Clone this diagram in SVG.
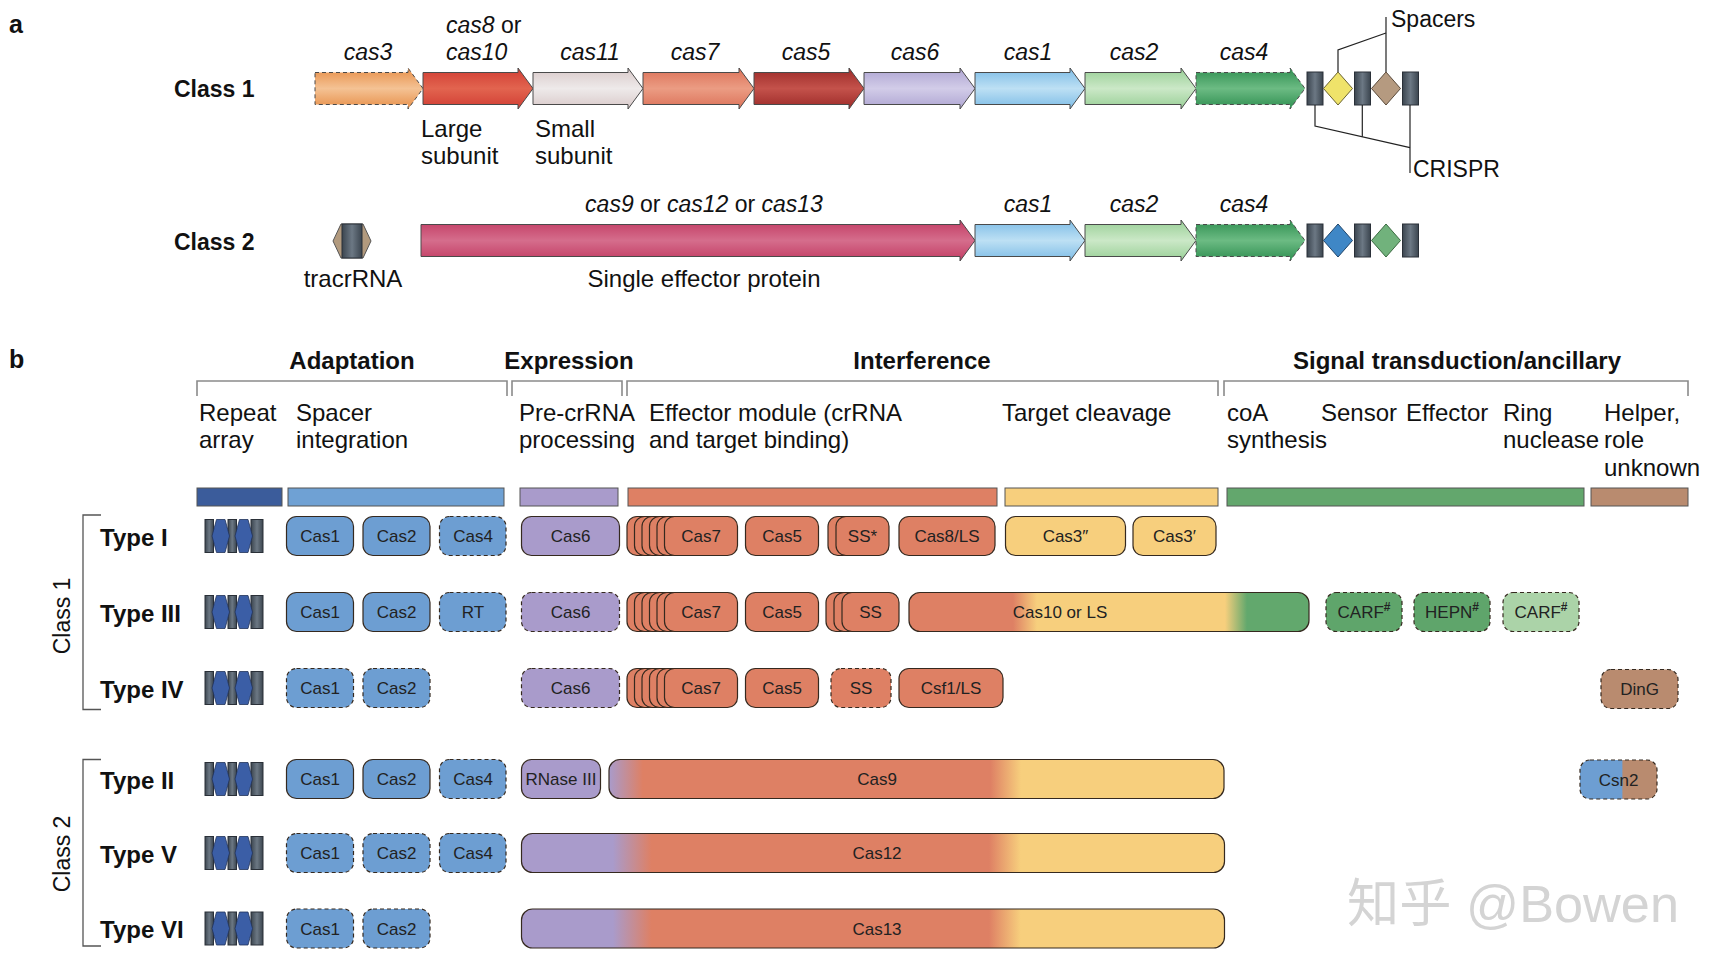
<svg xmlns="http://www.w3.org/2000/svg" width="1724" height="972" viewBox="0 0 1724 972">
<style>
text{font-family:"Liberation Sans",Arial,sans-serif;fill:#111}
.pl{font-size:25px;font-weight:bold}
.cl{font-size:23px;font-weight:bold}
.it{font-size:23px;font-style:italic}
.up{font-style:normal}
.lb{font-size:24px}
.hd{font-size:24px;font-weight:bold;text-anchor:middle}
.sh{font-size:24px}
.ty{font-size:24px;font-weight:bold}
.cv{font-size:23px;text-anchor:middle}
.bt{font-size:17px;text-anchor:middle;fill:#222}
.sup{font-size:12px;font-weight:bold}
.ar{stroke:#4a4a4a;stroke-width:1}
.ad{stroke-dasharray:4 3}
.bx{stroke:#35291f;stroke-width:1.2}
.d{stroke-dasharray:4 3}
.blue{fill:#6d9ed2}.pur{fill:#a99bcb}.sal{fill:#de8064}.yel{fill:#f7cf7d}.grn{fill:#5fa56b}.lgrn{fill:#abd3a8}.brn{fill:#b98b6f}
.cat{stroke:#555;stroke-width:1}
.brk{fill:none;stroke:#8a8a8a;stroke-width:1.6}
.cbr{fill:none;stroke:#555;stroke-width:1.3}
.ln{fill:none;stroke:#222;stroke-width:1.2}
.rep{stroke:#2a3038;stroke-width:1;fill:url(#gSlate)}
.hex{fill:#3b5ea6;stroke:#22345a;stroke-width:0.8}
</style>
<defs>
<linearGradient id="gOr" x1="0" y1="0" x2="0" y2="1"><stop offset="0" stop-color="#e78f49"/><stop offset="0.5" stop-color="#f4c294"/><stop offset="1" stop-color="#e78f49"/></linearGradient>
<linearGradient id="gRd" x1="0" y1="0" x2="0" y2="1"><stop offset="0" stop-color="#d13d33"/><stop offset="0.5" stop-color="#e2644f"/><stop offset="1" stop-color="#d13d33"/></linearGradient>
<linearGradient id="gGy" x1="0" y1="0" x2="0" y2="1"><stop offset="0" stop-color="#d9c9c9"/><stop offset="0.5" stop-color="#eeeaea"/><stop offset="1" stop-color="#d9c9c9"/></linearGradient>
<linearGradient id="gSa" x1="0" y1="0" x2="0" y2="1"><stop offset="0" stop-color="#dc7259"/><stop offset="0.5" stop-color="#eb9c83"/><stop offset="1" stop-color="#dc7259"/></linearGradient>
<linearGradient id="gDr" x1="0" y1="0" x2="0" y2="1"><stop offset="0" stop-color="#9c2a28"/><stop offset="0.5" stop-color="#c4524b"/><stop offset="1" stop-color="#9c2a28"/></linearGradient>
<linearGradient id="gLv" x1="0" y1="0" x2="0" y2="1"><stop offset="0" stop-color="#aea5d2"/><stop offset="0.5" stop-color="#d2cce8"/><stop offset="1" stop-color="#aea5d2"/></linearGradient>
<linearGradient id="gLb" x1="0" y1="0" x2="0" y2="1"><stop offset="0" stop-color="#7dbce6"/><stop offset="0.5" stop-color="#bde0f4"/><stop offset="1" stop-color="#7dbce6"/></linearGradient>
<linearGradient id="gLg" x1="0" y1="0" x2="0" y2="1"><stop offset="0" stop-color="#98cf96"/><stop offset="0.5" stop-color="#cbe8c7"/><stop offset="1" stop-color="#98cf96"/></linearGradient>
<linearGradient id="gDg" x1="0" y1="0" x2="0" y2="1"><stop offset="0" stop-color="#2f8f51"/><stop offset="0.5" stop-color="#6cbb83"/><stop offset="1" stop-color="#2f8f51"/></linearGradient>
<linearGradient id="gPk" x1="0" y1="0" x2="0" y2="1"><stop offset="0" stop-color="#c23c63"/><stop offset="0.5" stop-color="#d56d8c"/><stop offset="1" stop-color="#c23c63"/></linearGradient>
<linearGradient id="gSlate" x1="0" y1="0" x2="1" y2="0"><stop offset="0" stop-color="#3b454f"/><stop offset="0.5" stop-color="#6c7884"/><stop offset="1" stop-color="#3b454f"/></linearGradient>
<linearGradient id="gC10" x1="0" y1="0" x2="1" y2="0"><stop offset="0" stop-color="#de8064"/><stop offset="0.26" stop-color="#de8064"/><stop offset="0.32" stop-color="#f7cf7d"/><stop offset="0.79" stop-color="#f7cf7d"/><stop offset="0.845" stop-color="#62a86d"/><stop offset="1" stop-color="#62a86d"/></linearGradient>
<linearGradient id="gC9" x1="0" y1="0" x2="1" y2="0"><stop offset="0" stop-color="#a99bcb"/><stop offset="0.055" stop-color="#de8064"/><stop offset="0.62" stop-color="#de8064"/><stop offset="0.67" stop-color="#f7cf7d"/><stop offset="1" stop-color="#f7cf7d"/></linearGradient>
<linearGradient id="gC12" x1="0" y1="0" x2="1" y2="0"><stop offset="0" stop-color="#a99bcb"/><stop offset="0.13" stop-color="#a99bcb"/><stop offset="0.185" stop-color="#de8064"/><stop offset="0.665" stop-color="#de8064"/><stop offset="0.71" stop-color="#f7cf7d"/><stop offset="1" stop-color="#f7cf7d"/></linearGradient>
<linearGradient id="gCsn" x1="0" y1="0" x2="1" y2="0"><stop offset="0" stop-color="#6d9ed2"/><stop offset="0.54" stop-color="#6d9ed2"/><stop offset="0.56" stop-color="#b98b6f"/><stop offset="1" stop-color="#b98b6f"/></linearGradient>
<g id="rarr">
<rect x="0" y="0" width="8.5" height="33" class="rep"/>
<rect x="23" y="0" width="8.5" height="33" class="rep"/>
<rect x="46" y="0" width="12" height="33" class="rep"/>
<polygon class="hex" points="11.5,0 20,0 24.5,16.5 20,33 11.5,33 7,16.5"/>
<polygon class="hex" points="34.5,0 43,0 47.5,16.5 43,33 34.5,33 30,16.5"/>
</g>
</defs>
<rect width="1724" height="972" fill="#fff"/>

<!-- Panel a -->
<g id="panel-a">
<text class="pl" x="9" y="33">a</text>
<text class="cl" x="174" y="97">Class 1</text>
<text class="cl" x="174" y="250">Class 2</text>
</g>

<g id="a-row1">
<path class="ar ad" fill="url(#gOr)" d="M315,72.5 H408 V68 L423,88.5 L408,109 V104.5 H315 Z"/>
<path class="ar" fill="url(#gRd)" d="M423,72.5 H518 V68 L533,88.5 L518,109 V104.5 H423 Z"/>
<path class="ar" fill="url(#gGy)" d="M533,72.5 H628 V68 L643,88.5 L628,109 V104.5 H533 Z"/>
<path class="ar" fill="url(#gSa)" d="M643,72.5 H739 V68 L754,88.5 L739,109 V104.5 H643 Z"/>
<path class="ar" fill="url(#gDr)" d="M754,72.5 H849 V68 L864,88.5 L849,109 V104.5 H754 Z"/>
<path class="ar" fill="url(#gLv)" d="M864,72.5 H960 V68 L975,88.5 L960,109 V104.5 H864 Z"/>
<path class="ar" fill="url(#gLb)" d="M975,72.5 H1070 V68 L1085,88.5 L1070,109 V104.5 H975 Z"/>
<path class="ar" fill="url(#gLg)" d="M1085,72.5 H1181 V68 L1196,88.5 L1181,109 V104.5 H1085 Z"/>
<path class="ar ad" fill="url(#gDg)" d="M1196,72.5 H1290 V68 L1305,88.5 L1290,109 V104.5 H1196 Z"/>
<rect x="1307" y="72" width="16" height="33" class="rep"/>
<polygon points="1338,72 1352.5,88.5 1338,105 1323.5,88.5" fill="#efe36a" stroke="#6a6330" stroke-width="1"/>
<rect x="1354.5" y="72" width="16" height="33" class="rep"/>
<polygon points="1386,72 1400.5,88.5 1386,105 1371.5,88.5" fill="#b59a80" stroke="#5a4a3a" stroke-width="1"/>
<rect x="1402.5" y="72" width="16" height="33" class="rep"/>
<text class="it" x="368" y="60" text-anchor="middle">cas3</text>
<text class="it" x="446" y="33">cas8<tspan class="up"> or</tspan></text>
<text class="it" x="446" y="60">cas10</text>
<text class="it" x="590" y="60" text-anchor="middle">cas11</text>
<text class="it" x="695" y="60" text-anchor="middle">cas7</text>
<text class="it" x="806" y="60" text-anchor="middle">cas5</text>
<text class="it" x="915" y="60" text-anchor="middle">cas6</text>
<text class="it" x="1028" y="60" text-anchor="middle">cas1</text>
<text class="it" x="1134" y="60" text-anchor="middle">cas2</text>
<text class="it" x="1244" y="60" text-anchor="middle">cas4</text>
<text class="lb" x="421" y="136.5">Large</text>
<text class="lb" x="421" y="163.5">subunit</text>
<text class="lb" x="535" y="136.5">Small</text>
<text class="lb" x="535" y="163.5">subunit</text>
</g>

<g id="a-row2">
<polygon points="333,241 341,224 363,224 371,241 363,258 341,258" fill="#b29a7e" stroke="#555" stroke-width="1"/>
<rect x="342" y="224" width="20" height="34" class="rep"/>
<path class="ar" fill="url(#gPk)" d="M421,224.5 H960 V220 L975,240.5 L960,261 V256.5 H421 Z"/>
<path class="ar" fill="url(#gLb)" d="M975,224.5 H1070 V220 L1085,240.5 L1070,261 V256.5 H975 Z"/>
<path class="ar" fill="url(#gLg)" d="M1085,224.5 H1181 V220 L1196,240.5 L1181,261 V256.5 H1085 Z"/>
<path class="ar ad" fill="url(#gDg)" d="M1196,224.5 H1290 V220 L1305,240.5 L1290,261 V256.5 H1196 Z"/>
<rect x="1307" y="224" width="16" height="33" class="rep"/>
<polygon points="1338,224 1352.5,240.5 1338,257 1323.5,240.5" fill="#3f87c6" stroke="#1f456a" stroke-width="1"/>
<rect x="1354.5" y="224" width="16" height="33" class="rep"/>
<polygon points="1386,224 1400.5,240.5 1386,257 1371.5,240.5" fill="#71b27c" stroke="#3a6a40" stroke-width="1"/>
<rect x="1402.5" y="224" width="16" height="33" class="rep"/>
<text class="it" x="704" y="212" text-anchor="middle">cas9<tspan class="up"> or </tspan>cas12<tspan class="up"> or </tspan>cas13</text>
<text class="it" x="1028" y="212" text-anchor="middle">cas1</text>
<text class="it" x="1134" y="212" text-anchor="middle">cas2</text>
<text class="it" x="1244" y="212" text-anchor="middle">cas4</text>
<text class="lb" x="353" y="286.5" text-anchor="middle">tracrRNA</text>
<text class="lb" x="704" y="286.5" text-anchor="middle">Single effector protein</text>
</g>

<g id="a-connectors">
<polyline class="ln" points="1338,72 1338,50 1386,33"/>
<line class="ln" x1="1386" y1="72" x2="1386" y2="17"/>
<polyline class="ln" points="1315,105 1315,126 1410,147.7"/>
<line class="ln" x1="1362.3" y1="105" x2="1362.3" y2="136.8"/>
<line class="ln" x1="1410" y1="105" x2="1410" y2="173"/>
<text class="lb" x="1391" y="27" style="font-size:23px">Spacers</text>
<text class="lb" x="1413" y="177" style="font-size:23px">CRISPR</text>
</g>

<!-- Panel b -->
<g id="panel-b-headers">
<text class="pl" x="9" y="368">b</text>
<text class="hd" x="352" y="369">Adaptation</text>
<text class="hd" x="569" y="369">Expression</text>
<text class="hd" x="922" y="369">Interference</text>
<text class="hd" x="1457" y="369">Signal transduction/ancillary</text>
<path class="brk" d="M197,396 V381 H507 V396"/>
<path class="brk" d="M512,396 V381 H622 V396"/>
<path class="brk" d="M627,396 V381 H1218 V396"/>
<path class="brk" d="M1224,396 V381 H1688 V396"/>
<text class="sh" x="199" y="421">Repeat</text>
<text class="sh" x="199" y="448">array</text>
<text class="sh" x="296" y="421">Spacer</text>
<text class="sh" x="296" y="448">integration</text>
<text class="sh" x="519" y="421">Pre-crRNA</text>
<text class="sh" x="519" y="448">processing</text>
<text class="sh" x="649" y="421">Effector module (crRNA</text>
<text class="sh" x="649" y="448">and target binding)</text>
<text class="sh" x="1002" y="421">Target cleavage</text>
<text class="sh" x="1227" y="421">coA</text>
<text class="sh" x="1227" y="448">synthesis</text>
<text class="sh" x="1321" y="421">Sensor</text>
<text class="sh" x="1406" y="421">Effector</text>
<text class="sh" x="1503" y="421">Ring</text>
<text class="sh" x="1503" y="448">nuclease</text>
<text class="sh" x="1604" y="421">Helper,</text>
<text class="sh" x="1604" y="448">role</text>
<text class="sh" x="1604" y="475.5">unknown</text>
<rect class="cat" x="197" y="488" width="85" height="18" fill="#3b5c9b"/>
<rect class="cat" x="288" y="488" width="216" height="18" fill="#6fa1d4"/>
<rect class="cat" x="520" y="488" width="98" height="18" fill="#a99bcb"/>
<rect class="cat" x="628" y="488" width="369" height="18" fill="#de8064"/>
<rect class="cat" x="1005" y="488" width="213" height="18" fill="#f7cf7d"/>
<rect class="cat" x="1227" y="488" width="357" height="18" fill="#63a76d"/>
<rect class="cat" x="1591" y="488" width="97" height="18" fill="#b98b6f"/>
</g>

<g id="class-brackets">
<path class="cbr" d="M101,515 H83 V709.5 H101"/>
<path class="cbr" d="M101,759.5 H83 V946 H101"/>
<text class="cv" transform="translate(70,616) rotate(-90)">Class 1</text>
<text class="cv" transform="translate(70,854) rotate(-90)">Class 2</text>
</g>

<g id="type-I">
<text class="ty" x="100" y="545.5">Type I</text>
<use href="#rarr" x="205" y="519.5"/>
<rect class="bx blue" x="286.5" y="516.5" width="67" height="39" rx="10"/><text class="bt" x="320" y="542">Cas1</text>
<rect class="bx blue" x="363" y="516.5" width="67" height="39" rx="10"/><text class="bt" x="396.5" y="542">Cas2</text>
<rect class="bx blue d" x="439.5" y="516.5" width="66.5" height="39" rx="10"/><text class="bt" x="473" y="542">Cas4</text>
<rect class="bx pur" x="521.5" y="516.5" width="98" height="39" rx="10"/><text class="bt" x="570.5" y="542">Cas6</text>
<rect class="bx sal" x="627" y="516.5" width="73" height="39" rx="10"/>
<rect class="bx sal" x="634.5" y="516.5" width="73" height="39" rx="10"/>
<rect class="bx sal" x="642" y="516.5" width="73" height="39" rx="10"/>
<rect class="bx sal" x="649.5" y="516.5" width="73" height="39" rx="10"/>
<rect class="bx sal" x="657" y="516.5" width="73" height="39" rx="10"/>
<rect class="bx sal" x="664.5" y="516.5" width="73" height="39" rx="10"/><text class="bt" x="701" y="542">Cas7</text>
<rect class="bx sal" x="745.5" y="516.5" width="73" height="39" rx="10"/><text class="bt" x="782" y="542">Cas5</text>
<rect class="bx sal" x="828" y="516.5" width="53" height="39" rx="10"/>
<rect class="bx sal" x="836" y="516.5" width="53" height="39" rx="10"/><text class="bt" x="862.5" y="542">SS*</text>
<rect class="bx sal" x="899" y="516.5" width="96" height="39" rx="10"/><text class="bt" x="947" y="542">Cas8/LS</text>
<rect class="bx yel" x="1005.5" y="516.5" width="120" height="39" rx="10"/><text class="bt" x="1065.5" y="542">Cas3″</text>
<rect class="bx yel" x="1133" y="516.5" width="83" height="39" rx="10"/><text class="bt" x="1174.5" y="542">Cas3′</text>
</g>

<g id="type-III">
<text class="ty" x="100" y="621.5">Type III</text>
<use href="#rarr" x="205" y="595.5"/>
<rect class="bx blue" x="286.5" y="592.5" width="67" height="39" rx="10"/><text class="bt" x="320" y="618">Cas1</text>
<rect class="bx blue" x="363" y="592.5" width="67" height="39" rx="10"/><text class="bt" x="396.5" y="618">Cas2</text>
<rect class="bx blue d" x="439.5" y="592.5" width="66.5" height="39" rx="10"/><text class="bt" x="473" y="618">RT</text>
<rect class="bx pur d" x="521.5" y="592.5" width="98" height="39" rx="10"/><text class="bt" x="570.5" y="618">Cas6</text>
<rect class="bx sal" x="627" y="592.5" width="73" height="39" rx="10"/>
<rect class="bx sal" x="634.5" y="592.5" width="73" height="39" rx="10"/>
<rect class="bx sal" x="642" y="592.5" width="73" height="39" rx="10"/>
<rect class="bx sal" x="649.5" y="592.5" width="73" height="39" rx="10"/>
<rect class="bx sal" x="657" y="592.5" width="73" height="39" rx="10"/>
<rect class="bx sal" x="664.5" y="592.5" width="73" height="39" rx="10"/><text class="bt" x="701" y="618">Cas7</text>
<rect class="bx sal" x="745.5" y="592.5" width="73" height="39" rx="10"/><text class="bt" x="782" y="618">Cas5</text>
<rect class="bx sal" x="826" y="592.5" width="57" height="39" rx="10"/>
<rect class="bx sal" x="834" y="592.5" width="57" height="39" rx="10"/>
<rect class="bx sal" x="842" y="592.5" width="57" height="39" rx="10"/><text class="bt" x="870.5" y="618">SS</text>
<rect class="bx" fill="url(#gC10)" x="909" y="592.5" width="400" height="39" rx="11"/><text class="bt" x="1060" y="618">Cas10 or LS</text>
<rect class="bx grn d" x="1326" y="592.5" width="76" height="39" rx="10"/><text class="bt" x="1364" y="618">CARF<tspan class="sup" dy="-7">#</tspan></text>
<rect class="bx grn d" x="1414" y="592.5" width="76" height="39" rx="10"/><text class="bt" x="1452" y="618">HEPN<tspan class="sup" dy="-7">#</tspan></text>
<rect class="bx lgrn d" x="1503" y="592.5" width="76" height="39" rx="10"/><text class="bt" x="1541" y="618">CARF<tspan class="sup" dy="-7">#</tspan></text>
</g>

<g id="type-IV">
<text class="ty" x="100" y="697.5">Type IV</text>
<use href="#rarr" x="205" y="671.5"/>
<rect class="bx blue d" x="286.5" y="668.5" width="67" height="39" rx="10"/><text class="bt" x="320" y="694">Cas1</text>
<rect class="bx blue d" x="363" y="668.5" width="67" height="39" rx="10"/><text class="bt" x="396.5" y="694">Cas2</text>
<rect class="bx pur d" x="521.5" y="668.5" width="98" height="39" rx="10"/><text class="bt" x="570.5" y="694">Cas6</text>
<rect class="bx sal" x="627" y="668.5" width="73" height="39" rx="10"/>
<rect class="bx sal" x="634.5" y="668.5" width="73" height="39" rx="10"/>
<rect class="bx sal" x="642" y="668.5" width="73" height="39" rx="10"/>
<rect class="bx sal" x="649.5" y="668.5" width="73" height="39" rx="10"/>
<rect class="bx sal" x="657" y="668.5" width="73" height="39" rx="10"/>
<rect class="bx sal" x="664.5" y="668.5" width="73" height="39" rx="10"/><text class="bt" x="701" y="694">Cas7</text>
<rect class="bx sal" x="745.5" y="668.5" width="73" height="39" rx="10"/><text class="bt" x="782" y="694">Cas5</text>
<rect class="bx sal d" x="831" y="668.5" width="60" height="39" rx="10"/><text class="bt" x="861" y="694">SS</text>
<rect class="bx sal" x="899" y="668.5" width="104" height="39" rx="10"/><text class="bt" x="951" y="694">Csf1/LS</text>
<rect class="bx brn d" x="1601" y="669.5" width="77" height="39" rx="10"/><text class="bt" x="1639.5" y="695">DinG</text>
</g>

<g id="type-II">
<text class="ty" x="100" y="788.5">Type II</text>
<use href="#rarr" x="205" y="762.5"/>
<rect class="bx blue" x="286.5" y="759.5" width="67" height="39" rx="10"/><text class="bt" x="320" y="785">Cas1</text>
<rect class="bx blue" x="363" y="759.5" width="67" height="39" rx="10"/><text class="bt" x="396.5" y="785">Cas2</text>
<rect class="bx blue d" x="439.5" y="759.5" width="66.5" height="39" rx="10"/><text class="bt" x="473" y="785">Cas4</text>
<rect class="bx pur" x="521.5" y="759.5" width="79" height="39" rx="10"/><text class="bt" x="561" y="785">RNase III</text>
<rect class="bx" fill="url(#gC9)" x="609" y="759.5" width="615" height="39" rx="11"/><text class="bt" x="877" y="785">Cas9</text>
<rect class="bx d" fill="url(#gCsn)" x="1580" y="760" width="77" height="39" rx="10"/><text class="bt" x="1618.5" y="785.5">Csn2</text>
</g>

<g id="type-V">
<text class="ty" x="100" y="862.5">Type V</text>
<use href="#rarr" x="205" y="836.5"/>
<rect class="bx blue d" x="286.5" y="833.5" width="67" height="39" rx="10"/><text class="bt" x="320" y="859">Cas1</text>
<rect class="bx blue d" x="363" y="833.5" width="67" height="39" rx="10"/><text class="bt" x="396.5" y="859">Cas2</text>
<rect class="bx blue d" x="439.5" y="833.5" width="66.5" height="39" rx="10"/><text class="bt" x="473" y="859">Cas4</text>
<rect class="bx" fill="url(#gC12)" x="521.5" y="833.5" width="703" height="39" rx="11"/><text class="bt" x="877" y="859">Cas12</text>
</g>

<g id="type-VI">
<text class="ty" x="100" y="938">Type VI</text>
<use href="#rarr" x="205" y="912"/>
<rect class="bx blue d" x="286.5" y="909" width="67" height="39" rx="10"/><text class="bt" x="320" y="934.5">Cas1</text>
<rect class="bx blue d" x="363" y="909" width="67" height="39" rx="10"/><text class="bt" x="396.5" y="934.5">Cas2</text>
<rect class="bx" fill="url(#gC12)" x="521.5" y="909" width="703" height="39" rx="11"/><text class="bt" x="877" y="934.5">Cas13</text>
</g>

<g id="watermark">
<text x="1347" y="922" font-size="52" textLength="332" lengthAdjust="spacingAndGlyphs" style="font-family:'Liberation Sans','Noto Sans CJK SC',sans-serif;fill:#d4d4d4">知乎 @Bowen</text>
</g>
</svg>
